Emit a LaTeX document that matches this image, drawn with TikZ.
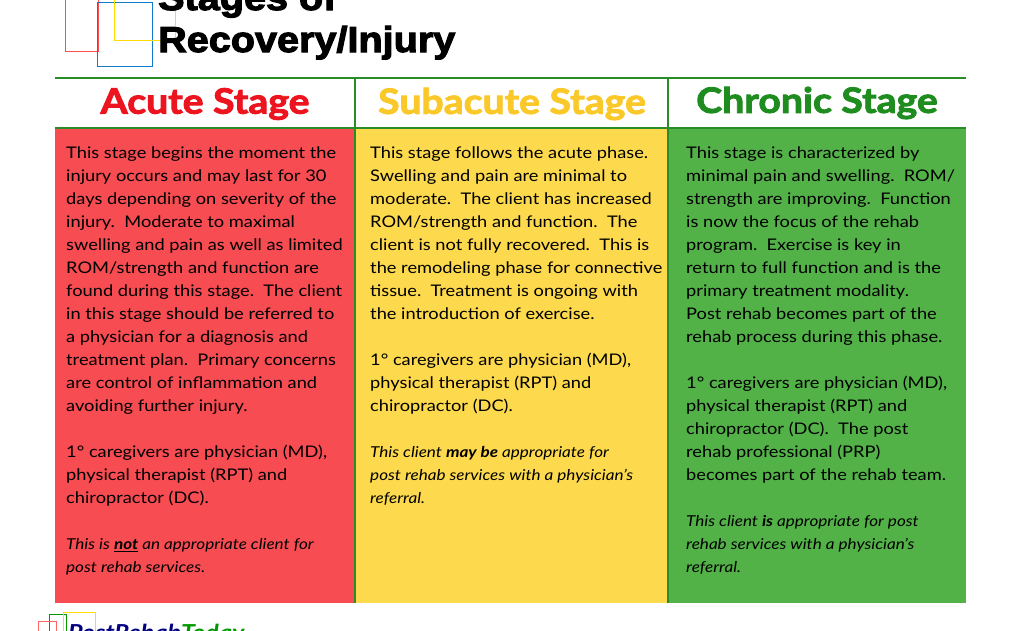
\documentclass[tikz,border=0pt]{standalone}
\usepackage{fontspec}
\setmainfont{Lato}[FakeStretch=1.14]
\newfontfamily\titlefont{Liberation Sans}[FakeStretch=1.1,FakeBold=3]
\newfontfamily\headfont{Lato}[FakeStretch=1.12,FakeBold=2.5]
\definecolor{cred}{RGB}{246,76,82}
\definecolor{cyel}{RGB}{253,217,78}
\definecolor{cgrn}{RGB}{82,178,72}
\definecolor{lgrn}{RGB}{40,140,40}
\definecolor{hred}{RGB}{236,20,30}
\definecolor{hyel}{RGB}{250,200,40}
\definecolor{hgrn}{RGB}{30,140,30}
\tikzset{x=1pt,y=-1pt,
 body/.style={anchor=north west,align=left,inner sep=0pt,font=\fontsize{16}{23}\selectfont},
 head/.style={font=\headfont\fontsize{35}{35}\selectfont\bfseries},
 ttl/.style={anchor=base west,inner sep=0pt,font=\titlefont\fontsize{36}{36}\selectfont\bfseries},
 sep/.style={draw=lgrn,line width=1.5pt}}
\newcommand{\itl}{\itshape\fontsize{15}{23}\selectfont}
\begin{document}
\begin{tikzpicture}
\useasboundingbox (0,0) rectangle (1024,630);
\clip (0,0) rectangle (1024,630);
% logo top
\draw[red!70,line width=0.8pt] (65,-10) rectangle (98,51);
\draw[cyan!60!blue,line width=0.8pt] (97,2) rectangle (152,66);
\draw[yellow!80!orange,line width=0.8pt] (114,-10) rectangle (175,40);
\node[ttl] (t1) at (158,10) {Stages of};
\node[ttl] (t2) at (158,52) {Recovery/Injury};
% table
\fill[cred] (55,128) rectangle (355,603);
\fill[cyel] (355,128) rectangle (668,603);
\fill[cgrn] (668,128) rectangle (966,603);
\draw[sep] (55,78) -- (966,78);
\draw[sep] (55,128) -- (966,128);
\draw[sep] (355,78) -- (355,603);
\draw[sep] (668,78) -- (668,603);
\node[head,text=hred] (h1) at (205,104) {Acute Stage};
\node[head,text=hyel] (h2) at (512,104) {Subacute Stage};
\node[head,text=hgrn] (h3) at (817,103) {Chronic Stage};
\node[body] (b1) at (66,147) {This stage begins the moment the\\injury occurs and may last for 30\\days depending on severity of the\\injury.\ \ Moderate to maximal\\swelling and pain as well as limited\\ROM/strength and function are\\found during this stage.\ \ The client\\in this stage should be referred to\\a physician for a diagnosis and\\treatment plan.\ \ Primary concerns\\are control of inflammation and\\avoiding further injury.\\[23pt]1° caregivers are physician (MD),\\physical therapist (RPT) and\\chiropractor (DC).\\[23pt]{\itl This is \textbf{\underline{not}} an appropriate client for}\\{\itl post rehab services.}};
\node[body] (b2) at (370,147) {This stage follows the acute phase.\\Swelling and pain are minimal to\\moderate.\ \ The client has increased\\ROM/strength and function.\ \ The\\client is not fully recovered.\ \ This is\\the remodeling phase for connective\\tissue.\ \ Treatment is ongoing with\\the introduction of exercise.\\[23pt]1° caregivers are physician (MD),\\physical therapist (RPT) and\\chiropractor (DC).\\[23pt]{\itl This client \textbf{may be} appropriate for}\\{\itl post rehab services with a physician’s}\\{\itl referral.}};
\node[body] (b3) at (686,147) {This stage is characterized by\\minimal pain and swelling.\ \ ROM/\\strength are improving.\ \ Function\\is now the focus of the rehab\\program.\ \ Exercise is key in\\return to full function and is the\\primary treatment modality.\\Post rehab becomes part of the\\rehab process during this phase.\\[23pt]1° caregivers are physician (MD),\\physical therapist (RPT) and\\chiropractor (DC).\ \ The post\\rehab professional (PRP)\\becomes part of the rehab team.\\[23pt]{\itl This client \textbf{is} appropriate for post}\\{\itl rehab services with a physician’s}\\{\itl referral.}};
% bottom logo
\draw[green!60!black,line width=0.6pt] (49,614) rectangle (66,640);
\draw[red!60,line width=0.6pt] (38,621) rectangle (56,640);
\draw[yellow!80!orange,line width=0.6pt] (63,612) rectangle (95,640);
\node[anchor=base west,inner sep=0pt,font=\fontsize{22}{22}\selectfont\bfseries\itshape] (lg) at (68,640) {\textcolor{blue!50!black}{PostRehab}\textcolor{green!60!black}{Today}};
\end{tikzpicture}
\end{document}
